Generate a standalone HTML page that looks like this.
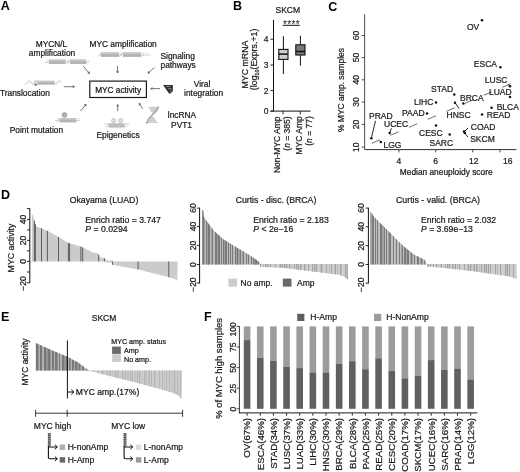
<!DOCTYPE html>
<html lang="en">
<head>
<meta charset="utf-8">
<title>MYC activity figure</title>
<style>
html,body{margin:0;padding:0;background:#fff;}
body{width:520px;height:472px;overflow:hidden;}
svg{display:block;font-family:"Liberation Sans",Arial,Helvetica,sans-serif;}
svg text{white-space:pre;stroke:#1a1a1a;stroke-width:.22px;}
</style>
</head>
<body>
<svg width="520" height="472" viewBox="0 0 520 472">
<rect x="0" y="0" width="520" height="472" fill="#ffffff"/>
<text x="0.80" y="10.10" font-size="12.5" font-weight="bold" fill="#000" style="stroke-width:0">A</text>
<text x="233.00" y="10.10" font-size="12.5" font-weight="bold" fill="#000" style="stroke-width:0">B</text>
<text x="328.20" y="10.60" font-size="12.5" font-weight="bold" fill="#000" style="stroke-width:0">C</text>
<text x="1.10" y="199.20" font-size="12.5" font-weight="bold" fill="#000" style="stroke-width:0">D</text>
<text x="1.00" y="320.90" font-size="12.5" font-weight="bold" fill="#000" style="stroke-width:0">E</text>
<text x="204.00" y="320.90" font-size="12.5" font-weight="bold" fill="#000" style="stroke-width:0">F</text>
<text x="51.50" y="47.00" font-size="8.35" text-anchor="middle" fill="#1a1a1a">MYCN/L</text>
<text x="52.00" y="56.10" font-size="8.35" text-anchor="middle" fill="#1a1a1a">amplification</text>
<line x1="44.50" y1="62.20" x2="89.00" y2="62.20" stroke="#c4c4c4" stroke-width="0.7"/>
<line x1="46.00" y1="60.20" x2="87.50" y2="60.20" stroke="#d4d4d4" stroke-width="0.5"/>
<rect x="49.00" y="59.60" width="16.50" height="4.40" fill="#b4b4b4"/>
<rect x="49.00" y="59.60" width="16.50" height="1.60" fill="#c8c8c8"/>
<line x1="46.00" y1="63.80" x2="49.00" y2="59.90" stroke="#bbb" stroke-width="0.6"/>
<line x1="65.50" y1="63.80" x2="68.50" y2="59.90" stroke="#bbb" stroke-width="0.6"/>
<rect x="70.00" y="59.60" width="16.00" height="4.40" fill="#b4b4b4"/>
<rect x="70.00" y="59.60" width="16.00" height="1.60" fill="#c8c8c8"/>
<line x1="67.00" y1="63.80" x2="70.00" y2="59.90" stroke="#bbb" stroke-width="0.6"/>
<line x1="86.00" y1="63.80" x2="89.00" y2="59.90" stroke="#bbb" stroke-width="0.6"/>
<line x1="83.40" y1="66.20" x2="89.50" y2="73.50" stroke="#4a4a4a" stroke-width="0.75"/>
<line x1="89.50" y1="73.50" x2="87.61" y2="72.85" stroke="#4a4a4a" stroke-width="0.75"/>
<line x1="89.50" y1="73.50" x2="89.19" y2="71.52" stroke="#4a4a4a" stroke-width="0.75"/>
<text x="89.50" y="46.60" font-size="8.35" fill="#1a1a1a">MYC amplification</text>
<line x1="98.50" y1="55.10" x2="150.50" y2="55.10" stroke="#c4c4c4" stroke-width="0.7"/>
<line x1="100.00" y1="53.10" x2="149.00" y2="53.10" stroke="#d4d4d4" stroke-width="0.5"/>
<rect x="101.00" y="52.50" width="18.00" height="4.40" fill="#b4b4b4"/>
<rect x="101.00" y="52.50" width="18.00" height="1.60" fill="#c8c8c8"/>
<line x1="98.00" y1="56.70" x2="101.00" y2="52.80" stroke="#bbb" stroke-width="0.6"/>
<line x1="119.00" y1="56.70" x2="122.00" y2="52.80" stroke="#bbb" stroke-width="0.6"/>
<rect x="123.00" y="52.50" width="18.00" height="4.40" fill="#b4b4b4"/>
<rect x="123.00" y="52.50" width="18.00" height="1.60" fill="#c8c8c8"/>
<line x1="120.00" y1="56.70" x2="123.00" y2="52.80" stroke="#bbb" stroke-width="0.6"/>
<line x1="141.00" y1="56.70" x2="144.00" y2="52.80" stroke="#bbb" stroke-width="0.6"/>
<line x1="117.50" y1="66.00" x2="117.50" y2="73.00" stroke="#4a4a4a" stroke-width="0.75"/>
<line x1="117.50" y1="73.00" x2="116.47" y2="71.29" stroke="#4a4a4a" stroke-width="0.75"/>
<line x1="117.50" y1="73.00" x2="118.53" y2="71.29" stroke="#4a4a4a" stroke-width="0.75"/>
<text x="160.50" y="58.50" font-size="8.35" fill="#1a1a1a">Signaling</text>
<text x="160.50" y="68.00" font-size="8.35" fill="#1a1a1a">pathways</text>
<line x1="154.50" y1="67.50" x2="148.00" y2="73.20" stroke="#4a4a4a" stroke-width="0.75"/>
<line x1="148.00" y1="73.20" x2="148.61" y2="71.29" stroke="#4a4a4a" stroke-width="0.75"/>
<line x1="148.00" y1="73.20" x2="149.97" y2="72.85" stroke="#4a4a4a" stroke-width="0.75"/>
<rect x="89.80" y="81.10" width="56.60" height="16.40" fill="#fff" stroke="#1a1a1a" stroke-width="1.2"/>
<text x="118.10" y="92.70" font-size="8.25" text-anchor="middle" fill="#111">MYC activity</text>
<path d="M163.1 85 L172.8 84.9 L172.8 91.2 L169.6 94 L167.6 91.6 Z" fill="#2e2e2e"/>
<path d="M166 86.6 L170.6 86.6 M168.2 88.6 L171.6 88.8 M170 90.8 L171.4 90.8" stroke="#bbb" stroke-width="0.7" fill="none"/>
<line x1="160.00" y1="88.60" x2="150.80" y2="88.60" stroke="#555" stroke-width="0.8"/>
<line x1="150.80" y1="88.60" x2="152.43" y2="87.62" stroke="#555" stroke-width="0.8"/>
<line x1="150.80" y1="88.60" x2="152.43" y2="89.58" stroke="#555" stroke-width="0.8"/>
<text x="202.00" y="86.90" font-size="8.35" text-anchor="middle" fill="#1a1a1a">Viral</text>
<text x="203.60" y="95.70" font-size="8.35" text-anchor="middle" fill="#1a1a1a">integration</text>
<path d="M24.6 84.6 L28.6 80.6 L33 84.6 L35.2 84.6 M54.6 84.5 L59 80.8 L61.6 82" stroke="#b8b8b8" stroke-width="0.7" fill="none"/>
<path d="M26.6 84.8 L30.4 81 L34 84.2 M55.8 84.8 L60.4 81.2" stroke="#d0d0d0" stroke-width="0.6" fill="none"/>
<rect x="34.40" y="80.80" width="3.20" height="3.80" fill="#e2e2e2" stroke="#b0b0b0" stroke-width="0.5"/>
<rect x="37.70" y="80.80" width="16.90" height="3.90" fill="#b4b4b4"/>
<rect x="37.70" y="80.80" width="16.90" height="1.40" fill="#c8c8c8"/>
<rect x="34.80" y="83.80" width="2.00" height="1.80" fill="#6e6e6e"/>
<text x="0.00" y="96.00" font-size="8.35" fill="#1a1a1a">Translocation</text>
<line x1="63.80" y1="86.70" x2="74.40" y2="86.70" stroke="#4a4a4a" stroke-width="0.75"/>
<line x1="74.40" y1="86.70" x2="72.69" y2="87.73" stroke="#4a4a4a" stroke-width="0.75"/>
<line x1="74.40" y1="86.70" x2="72.69" y2="85.67" stroke="#4a4a4a" stroke-width="0.75"/>
<line x1="55.00" y1="120.60" x2="80.00" y2="120.60" stroke="#c4c4c4" stroke-width="0.7"/>
<line x1="56.50" y1="118.60" x2="78.50" y2="118.60" stroke="#d4d4d4" stroke-width="0.5"/>
<rect x="59.50" y="118.00" width="16.50" height="4.40" fill="#b4b4b4"/>
<rect x="59.50" y="118.00" width="16.50" height="1.60" fill="#c8c8c8"/>
<line x1="56.50" y1="122.20" x2="59.50" y2="118.30" stroke="#bbb" stroke-width="0.6"/>
<line x1="76.00" y1="122.20" x2="79.00" y2="118.30" stroke="#bbb" stroke-width="0.6"/>
<circle cx="64.5" cy="115" r="2.5" fill="#b0b0b0" stroke="#909090" stroke-width="0.5"/>
<text x="9.70" y="132.80" font-size="8.35" fill="#1a1a1a">Point mutation</text>
<line x1="80.50" y1="111.00" x2="86.00" y2="104.30" stroke="#4a4a4a" stroke-width="0.75"/>
<line x1="86.00" y1="104.30" x2="85.71" y2="106.28" stroke="#4a4a4a" stroke-width="0.75"/>
<line x1="86.00" y1="104.30" x2="84.12" y2="104.97" stroke="#4a4a4a" stroke-width="0.75"/>
<line x1="103.30" y1="123.80" x2="129.20" y2="123.80" stroke="#c8c8c8" stroke-width="0.7"/>
<line x1="104.50" y1="126.40" x2="128.00" y2="126.40" stroke="#d4d4d4" stroke-width="0.6"/>
<rect x="108.50" y="123.40" width="16.10" height="4.20" fill="#bdbdbd"/>
<line x1="105.50" y1="127.40" x2="108.50" y2="123.60" stroke="#c4c4c4" stroke-width="0.6"/>
<line x1="124.60" y1="127.40" x2="127.60" y2="123.60" stroke="#c4c4c4" stroke-width="0.6"/>
<circle cx="113.6" cy="120.6" r="2" fill="#e4e4e4" stroke="#a8a8a8" stroke-width="0.7"/>
<circle cx="120.6" cy="120.6" r="2" fill="#e4e4e4" stroke="#a8a8a8" stroke-width="0.7"/>
<text x="118.00" y="138.20" font-size="8.35" text-anchor="middle" fill="#1a1a1a">Epigenetics</text>
<line x1="117.70" y1="111.20" x2="117.70" y2="104.60" stroke="#4a4a4a" stroke-width="0.75"/>
<line x1="117.70" y1="104.60" x2="118.73" y2="106.31" stroke="#4a4a4a" stroke-width="0.75"/>
<line x1="117.70" y1="104.60" x2="116.67" y2="106.31" stroke="#4a4a4a" stroke-width="0.75"/>
<path d="M148.6 107.4 L158.4 107.4 L153.4 115.2 Z" fill="#dcdcdc"/>
<path d="M152.2 115.4 L146.8 122.4 L157.6 122.4 Z" fill="#dcdcdc"/>
<path d="M148.6 107.4 L158.4 107.4 M149.6 109.2 L157.2 109.2 M150.8 111 L156 111 M150.6 118.2 L154.4 118.2 M149 120.2 L156 120.2 M146.8 122.4 L157.6 122.4" stroke="#b4b4b4" stroke-width="0.7" fill="none"/>
<path d="M158.5 106.4 C158.2 112.5 147.2 116.5 146.6 123.8" stroke="#a2a2a2" stroke-width="1.4" fill="none"/>
<text x="182.00" y="118.10" font-size="8.35" text-anchor="middle" fill="#1a1a1a">lncRNA</text>
<text x="181.50" y="128.20" font-size="8.35" text-anchor="middle" fill="#1a1a1a">PVT1</text>
<line x1="142.80" y1="108.80" x2="139.20" y2="103.40" stroke="#4a4a4a" stroke-width="0.75"/>
<line x1="139.20" y1="103.40" x2="141.01" y2="104.25" stroke="#4a4a4a" stroke-width="0.75"/>
<line x1="139.20" y1="103.40" x2="139.29" y2="105.40" stroke="#4a4a4a" stroke-width="0.75"/>
<text x="287.80" y="12.60" font-size="8.5" text-anchor="middle" fill="#1a1a1a">SKCM</text>
<line x1="273.50" y1="19.80" x2="273.50" y2="111.10" stroke="#111" stroke-width="1.0"/>
<line x1="270.40" y1="111.10" x2="310.50" y2="111.10" stroke="#111" stroke-width="1.0"/>
<line x1="270.40" y1="39.20" x2="273.50" y2="39.20" stroke="#111" stroke-width="0.9"/>
<text x="268.60" y="42.20" font-size="8.5" text-anchor="end" fill="#1a1a1a">4</text>
<line x1="270.40" y1="65.00" x2="273.50" y2="65.00" stroke="#111" stroke-width="0.9"/>
<text x="268.60" y="68.00" font-size="8.5" text-anchor="end" fill="#1a1a1a">3</text>
<line x1="270.40" y1="90.60" x2="273.50" y2="90.60" stroke="#111" stroke-width="0.9"/>
<text x="268.60" y="93.60" font-size="8.5" text-anchor="end" fill="#1a1a1a">2</text>
<line x1="270.40" y1="111.10" x2="273.50" y2="111.10" stroke="#111" stroke-width="0.9"/>
<text x="268.60" y="114.10" font-size="8.5" text-anchor="end" fill="#1a1a1a">0</text>
<line x1="283.00" y1="111.10" x2="283.00" y2="114.30" stroke="#111" stroke-width="0.9"/>
<line x1="300.30" y1="111.10" x2="300.30" y2="114.30" stroke="#111" stroke-width="0.9"/>
<line x1="283.40" y1="36.20" x2="283.40" y2="74.00" stroke="#111" stroke-width="1.0"/>
<rect x="278.80" y="49.40" width="9.20" height="10.00" fill="#cdcdcd" stroke="#111" stroke-width="1.1"/>
<line x1="278.80" y1="54.10" x2="288.00" y2="54.10" stroke="#111" stroke-width="1.5"/>
<line x1="300.40" y1="35.80" x2="300.40" y2="65.70" stroke="#111" stroke-width="1.0"/>
<rect x="295.80" y="44.80" width="9.20" height="10.20" fill="#787878" stroke="#111" stroke-width="1.1"/>
<line x1="295.80" y1="51.50" x2="305.00" y2="51.50" stroke="#111" stroke-width="1.5"/>
<line x1="282.80" y1="25.30" x2="299.80" y2="25.30" stroke="#111" stroke-width="1.0"/>
<text x="291.50" y="28.00" font-size="10" text-anchor="middle" fill="#111" letter-spacing="0.35" style="stroke-width:0">****</text>
<text x="248.40" y="64.50" font-size="8.8" text-anchor="middle" transform="rotate(-90 248.40 64.50)" fill="#1a1a1a">MYC mRNA</text>
<text x="257.00" y="59.40" font-size="8.8" text-anchor="middle" transform="rotate(-90 257 59.4)" fill="#1a1a1a">(log<tspan font-size="5.4" dy="1.6">10</tspan><tspan dy="-1.6">(Exprs.+1)</tspan></text>
<text x="279.60" y="116.40" font-size="8.5" text-anchor="end" transform="rotate(-90 279.60 116.40)" fill="#1a1a1a">Non-MYC Amp</text>
<text x="290.30" y="116.40" font-size="8.5" text-anchor="end" transform="rotate(-90 290.3 116.4)" fill="#1a1a1a">(<tspan font-style="italic">n</tspan> = 385)</text>
<text x="302.00" y="116.20" font-size="8.5" text-anchor="end" transform="rotate(-90 302.00 116.20)" fill="#1a1a1a">MYC Amp</text>
<text x="312.30" y="116.20" font-size="8.5" text-anchor="end" transform="rotate(-90 312.3 116.2)" fill="#1a1a1a">(<tspan font-style="italic">n</tspan> = 77)</text>
<line x1="364.60" y1="14.40" x2="364.60" y2="149.60" stroke="#222" stroke-width="0.8"/>
<line x1="364.60" y1="149.60" x2="516.40" y2="149.60" stroke="#1a1a1a" stroke-width="0.9"/>
<line x1="361.80" y1="35.50" x2="364.60" y2="35.50" stroke="#222" stroke-width="0.8"/>
<text x="359.20" y="35.50" font-size="8.5" text-anchor="middle" transform="rotate(-90 359.20 35.50)" fill="#1a1a1a">60</text>
<line x1="361.80" y1="57.60" x2="364.60" y2="57.60" stroke="#222" stroke-width="0.8"/>
<text x="359.20" y="57.60" font-size="8.5" text-anchor="middle" transform="rotate(-90 359.20 57.60)" fill="#1a1a1a">50</text>
<line x1="361.80" y1="79.80" x2="364.60" y2="79.80" stroke="#222" stroke-width="0.8"/>
<text x="359.20" y="79.80" font-size="8.5" text-anchor="middle" transform="rotate(-90 359.20 79.80)" fill="#1a1a1a">40</text>
<line x1="361.80" y1="102.10" x2="364.60" y2="102.10" stroke="#222" stroke-width="0.8"/>
<text x="359.20" y="102.10" font-size="8.5" text-anchor="middle" transform="rotate(-90 359.20 102.10)" fill="#1a1a1a">30</text>
<line x1="361.80" y1="124.40" x2="364.60" y2="124.40" stroke="#222" stroke-width="0.8"/>
<text x="359.20" y="124.40" font-size="8.5" text-anchor="middle" transform="rotate(-90 359.20 124.40)" fill="#1a1a1a">20</text>
<line x1="361.80" y1="147.20" x2="364.60" y2="147.20" stroke="#222" stroke-width="0.8"/>
<text x="359.20" y="147.20" font-size="8.5" text-anchor="middle" transform="rotate(-90 359.20 147.20)" fill="#1a1a1a">10</text>
<line x1="398.90" y1="149.60" x2="398.90" y2="152.40" stroke="#222" stroke-width="0.8"/>
<text x="398.90" y="163.70" font-size="8.5" text-anchor="middle" fill="#1a1a1a">4</text>
<line x1="435.70" y1="149.60" x2="435.70" y2="152.40" stroke="#222" stroke-width="0.8"/>
<text x="435.70" y="163.70" font-size="8.5" text-anchor="middle" fill="#1a1a1a">6</text>
<line x1="472.70" y1="149.60" x2="472.70" y2="152.40" stroke="#222" stroke-width="0.8"/>
<text x="473.80" y="163.70" font-size="8.5" text-anchor="middle" fill="#1a1a1a">12</text>
<line x1="500.00" y1="149.60" x2="500.00" y2="152.40" stroke="#222" stroke-width="0.8"/>
<text x="507.70" y="163.70" font-size="8.5" text-anchor="middle" fill="#1a1a1a">16</text>
<text x="399.80" y="174.50" font-size="8.35" fill="#1a1a1a">Median aneuploidy score</text>
<text x="343.60" y="90.00" font-size="8.5" text-anchor="middle" transform="rotate(-90 343.60 90.00)" fill="#1a1a1a">% MYC amp. samples</text>
<line x1="371.8" y1="143.3" x2="511" y2="83.6" stroke="#5a5a5a" stroke-width="0.9" stroke-dasharray="8.9 11.4"/>
<circle cx="482" cy="20.2" r="1.25" fill="#111"/>
<circle cx="500.4" cy="67.3" r="1.25" fill="#111"/>
<circle cx="510" cy="86.2" r="1.25" fill="#111"/>
<circle cx="510" cy="97" r="1.25" fill="#111"/>
<circle cx="454.3" cy="94.4" r="1.25" fill="#111"/>
<circle cx="463.4" cy="103.5" r="1.25" fill="#111"/>
<circle cx="455" cy="102.8" r="1.25" fill="#111"/>
<circle cx="436" cy="102.6" r="1.25" fill="#111"/>
<circle cx="491.6" cy="107.7" r="1.25" fill="#111"/>
<circle cx="482" cy="114.5" r="1.25" fill="#111"/>
<circle cx="427" cy="113.4" r="1.25" fill="#111"/>
<circle cx="371.4" cy="138.2" r="1.25" fill="#111"/>
<circle cx="389.7" cy="133" r="1.25" fill="#111"/>
<circle cx="380.8" cy="142" r="1.25" fill="#111"/>
<circle cx="436" cy="125.5" r="1.25" fill="#111"/>
<circle cx="449.7" cy="134.6" r="1.25" fill="#111"/>
<circle cx="464" cy="131.6" r="1.25" fill="#111"/>
<circle cx="464.8" cy="133" r="1.25" fill="#111"/>
<text x="467.00" y="30.00" font-size="8.5" fill="#1a1a1a">OV</text>
<text x="473.80" y="67.00" font-size="8.5" fill="#1a1a1a">ESCA</text>
<text x="484.80" y="82.60" font-size="8.5" fill="#1a1a1a">LUSC</text>
<text x="489.00" y="95.00" font-size="8.5" fill="#1a1a1a">LUAD</text>
<text x="431.00" y="92.00" font-size="8.5" fill="#1a1a1a">STAD</text>
<text x="460.00" y="100.60" font-size="8.5" fill="#1a1a1a">BRCA</text>
<text x="446.60" y="118.00" font-size="8.5" fill="#1a1a1a">HNSC</text>
<text x="414.00" y="104.60" font-size="8.5" fill="#1a1a1a">LIHC</text>
<text x="496.70" y="110.00" font-size="8.5" fill="#1a1a1a">BLCA</text>
<text x="486.80" y="118.00" font-size="8.5" fill="#1a1a1a">READ</text>
<text x="402.00" y="115.70" font-size="8.5" fill="#1a1a1a">PAAD</text>
<text x="369.00" y="119.00" font-size="8.5" fill="#1a1a1a">PRAD</text>
<text x="384.00" y="127.00" font-size="8.5" fill="#1a1a1a">UCEC</text>
<text x="383.50" y="147.90" font-size="8.5" fill="#1a1a1a">LGG</text>
<text x="419.00" y="136.00" font-size="8.5" fill="#1a1a1a">CESC</text>
<text x="429.50" y="146.00" font-size="8.5" fill="#1a1a1a">SARC</text>
<text x="470.80" y="130.00" font-size="8.5" fill="#1a1a1a">COAD</text>
<text x="470.20" y="141.50" font-size="8.5" fill="#1a1a1a">SKCM</text>
<line x1="375.50" y1="120.80" x2="371.60" y2="137.00" stroke="#111" stroke-width="0.9"/>
<line x1="391.40" y1="128.30" x2="389.90" y2="132.40" stroke="#111" stroke-width="0.9"/>
<line x1="455.20" y1="103.00" x2="459.00" y2="108.40" stroke="#111" stroke-width="0.9"/>
<line x1="464.20" y1="131.80" x2="468.00" y2="128.00" stroke="#111" stroke-width="0.9"/>
<line x1="464.60" y1="133.00" x2="468.00" y2="137.00" stroke="#111" stroke-width="0.9"/>
<line x1="508.00" y1="84.60" x2="509.60" y2="85.80" stroke="#111" stroke-width="0.8"/>
<text x="104.00" y="203.20" font-size="8.7" text-anchor="middle" fill="#1a1a1a">Okayama (LUAD)</text>
<line x1="29.80" y1="208.20" x2="29.80" y2="283.10" stroke="#111" stroke-width="1.0"/>
<line x1="27.00" y1="219.40" x2="29.80" y2="219.40" stroke="#111" stroke-width="0.9"/>
<text x="26.20" y="219.40" font-size="8.5" text-anchor="middle" transform="rotate(-90 26.20 219.40)" fill="#1a1a1a">40</text>
<line x1="27.00" y1="240.40" x2="29.80" y2="240.40" stroke="#111" stroke-width="0.9"/>
<text x="26.20" y="240.40" font-size="8.5" text-anchor="middle" transform="rotate(-90 26.20 240.40)" fill="#1a1a1a">20</text>
<line x1="27.00" y1="261.40" x2="29.80" y2="261.40" stroke="#111" stroke-width="0.9"/>
<text x="26.20" y="261.40" font-size="8.5" text-anchor="middle" transform="rotate(-90 26.20 261.40)" fill="#1a1a1a">0</text>
<line x1="27.00" y1="282.70" x2="29.80" y2="282.70" stroke="#111" stroke-width="0.9"/>
<text x="26.20" y="283.60" font-size="8.5" text-anchor="middle" transform="rotate(-90 26.20 283.60)" fill="#1a1a1a">−20</text>
<line x1="27.00" y1="208.60" x2="29.80" y2="208.60" stroke="#111" stroke-width="0.9"/>
<line x1="27.00" y1="229.90" x2="29.80" y2="229.90" stroke="#111" stroke-width="0.9"/>
<line x1="27.00" y1="250.90" x2="29.80" y2="250.90" stroke="#111" stroke-width="0.9"/>
<line x1="27.00" y1="272.00" x2="29.80" y2="272.00" stroke="#111" stroke-width="0.9"/>
<text x="14.40" y="248.00" font-size="8.8" text-anchor="middle" transform="rotate(-90 14.40 248.00)" fill="#1a1a1a">MYC activity</text>
<path d="M31.8 261.4 L31.8 214.20 L32.3 214.74 L32.8 215.28 L33.3 216.60 L33.8 218.43 L34.3 220.27 L34.8 222.00 L35.3 223.67 L35.8 225.33 L36.3 226.18 L36.8 226.48 L37.3 226.78 L37.8 227.08 L38.3 227.30 L38.8 227.46 L39.3 227.62 L39.8 227.79 L40.3 227.95 L40.8 228.11 L41.3 228.27 L41.8 228.44 L42.3 228.60 L42.8 228.82 L43.3 229.03 L43.8 229.25 L44.3 229.47 L44.8 229.68 L45.3 229.90 L45.8 230.12 L46.3 230.33 L46.8 230.55 L47.3 230.77 L47.8 230.98 L48.3 231.20 L48.8 231.49 L49.3 231.77 L49.8 232.06 L50.3 232.34 L50.8 232.63 L51.3 232.91 L51.8 233.20 L52.3 233.48 L52.8 233.77 L53.3 234.05 L53.8 234.34 L54.3 234.62 L54.8 234.91 L55.3 235.19 L55.8 235.48 L56.3 235.76 L56.8 236.05 L57.3 236.33 L57.8 236.62 L58.3 236.90 L58.8 237.19 L59.3 237.48 L59.8 237.78 L60.3 238.08 L60.8 238.38 L61.3 238.68 L61.8 238.97 L62.3 239.27 L62.8 239.57 L63.3 239.87 L63.8 240.17 L64.3 240.47 L64.8 240.77 L65.3 241.07 L65.8 241.37 L66.3 241.66 L66.8 241.96 L67.3 242.26 L67.8 242.56 L68.3 242.86 L68.8 243.13 L69.3 243.27 L69.8 243.41 L70.3 243.55 L70.8 243.70 L71.3 243.84 L71.8 243.98 L72.3 244.12 L72.8 244.26 L73.3 244.40 L73.8 244.55 L74.3 244.69 L74.8 244.83 L75.3 244.97 L75.8 245.11 L76.3 245.25 L76.8 245.40 L77.3 245.54 L77.8 245.68 L78.3 245.82 L78.8 245.96 L79.3 246.10 L79.8 246.25 L80.3 246.39 L80.8 246.53 L81.3 246.67 L81.8 246.90 L82.3 247.15 L82.8 247.40 L83.3 247.65 L83.8 247.90 L84.3 248.15 L84.8 248.40 L85.3 248.65 L85.8 248.90 L86.3 249.15 L86.8 249.40 L87.3 249.65 L87.8 249.90 L88.3 250.15 L88.8 250.40 L89.3 250.69 L89.8 251.01 L90.3 251.32 L90.8 251.64 L91.3 251.96 L91.8 252.27 L92.3 252.44 L92.8 252.50 L93.3 252.56 L93.8 252.62 L94.3 252.68 L94.8 252.74 L95.3 252.80 L95.8 252.86 L96.3 252.92 L96.8 252.98 L97.3 253.26 L97.8 253.69 L98.3 254.13 L98.8 254.77 L99.3 255.56 L99.8 256.34 L100.3 257.13 L100.8 257.63 L101.3 257.71 L101.8 257.78 L102.3 257.86 L102.8 257.94 L103.3 258.02 L103.8 258.09 L104.3 258.17 L104.8 258.50 L105.3 259.00 L105.8 259.50 L106.3 260.00 L106.8 260.28 L107.3 260.41 L107.8 260.55 L108.3 260.74 L108.8 260.98 L109.3 261.22 L109.8 261.45 L110.3 261.69 L110.8 261.93 L111.3 262.16 L111.8 262.40 L112.3 264.82 L112.8 264.91 L113.3 265.00 L113.8 265.09 L114.3 265.17 L114.8 265.26 L115.3 265.35 L115.8 265.44 L116.3 265.53 L116.8 265.62 L117.3 265.71 L117.8 265.80 L118.3 265.89 L118.8 265.98 L119.3 266.07 L119.8 266.16 L120.3 266.24 L120.8 266.33 L121.3 266.42 L121.8 266.51 L122.3 266.60 L122.8 266.69 L123.3 266.78 L123.8 266.87 L124.3 266.96 L124.8 267.05 L125.3 267.14 L125.8 267.22 L126.3 267.31 L126.8 267.40 L127.3 267.49 L127.8 267.58 L128.3 267.67 L128.8 267.76 L129.3 267.85 L129.8 267.94 L130.3 268.03 L130.8 268.12 L131.3 268.21 L131.8 268.29 L132.3 268.38 L132.8 268.47 L133.3 268.56 L133.8 268.65 L134.3 268.74 L134.8 268.83 L135.3 268.92 L135.8 269.01 L136.3 269.10 L136.8 269.19 L137.3 269.28 L137.8 269.36 L138.3 269.48 L138.8 269.60 L139.3 269.73 L139.8 269.86 L140.3 269.98 L140.8 270.11 L141.3 270.24 L141.8 270.37 L142.3 270.49 L142.8 270.62 L143.3 270.75 L143.8 270.87 L144.3 271.00 L144.8 271.13 L145.3 271.25 L145.8 271.38 L146.3 271.51 L146.8 271.64 L147.3 271.76 L147.8 271.89 L148.3 272.02 L148.8 272.14 L149.3 272.27 L149.8 272.40 L150.3 272.53 L150.8 272.65 L151.3 272.78 L151.8 272.91 L152.3 273.03 L152.8 273.16 L153.3 273.29 L153.8 273.41 L154.3 273.54 L154.8 273.67 L155.3 273.80 L155.8 273.92 L156.3 274.05 L156.8 274.18 L157.3 274.30 L157.8 274.43 L158.3 274.56 L158.8 274.68 L159.3 274.81 L159.8 274.94 L160.3 275.07 L160.8 275.19 L161.3 275.32 L161.8 275.45 L162.3 275.57 L162.8 275.70 L163.3 275.83 L163.8 275.96 L164.3 276.08 L164.8 276.21 L165.3 276.34 L165.8 276.46 L166.3 276.59 L166.8 276.72 L167.3 276.84 L167.8 276.97 L168.3 277.10 L168.8 277.23 L169.3 277.36 L169.8 277.50 L170.3 277.63 L170.8 277.77 L171.3 277.91 L171.8 278.04 L172.3 278.18 L172.8 278.31 L173.3 278.45 L173.8 278.58 L174.3 278.72 L174.8 278.96 L175.3 279.36 L175.8 279.76 L176.3 280.16 L176.8 280.56 L177.3 280.96 L177.6 261.4 Z" fill="#cbcbcb"/>
<rect x="105.00" y="260.30" width="8.00" height="2.20" fill="#d2d2d2"/>
<line x1="34.40" y1="261.40" x2="34.40" y2="220.63" stroke="#505050" stroke-width="0.9"/>
<line x1="35.40" y1="261.40" x2="35.40" y2="224.00" stroke="#505050" stroke-width="0.9"/>
<line x1="41.50" y1="261.40" x2="41.50" y2="228.34" stroke="#505050" stroke-width="0.9"/>
<line x1="47.40" y1="261.40" x2="47.40" y2="230.81" stroke="#505050" stroke-width="0.9"/>
<line x1="58.50" y1="261.40" x2="58.50" y2="237.01" stroke="#505050" stroke-width="0.9"/>
<line x1="68.40" y1="261.40" x2="68.40" y2="242.92" stroke="#505050" stroke-width="0.9"/>
<line x1="69.60" y1="261.40" x2="69.60" y2="243.36" stroke="#505050" stroke-width="0.9"/>
<line x1="80.90" y1="261.40" x2="80.90" y2="246.56" stroke="#505050" stroke-width="0.9"/>
<line x1="82.70" y1="261.40" x2="82.70" y2="247.35" stroke="#505050" stroke-width="0.9"/>
<line x1="98.70" y1="261.40" x2="98.70" y2="254.61" stroke="#505050" stroke-width="0.9"/>
<line x1="104.40" y1="261.40" x2="104.40" y2="258.18" stroke="#505050" stroke-width="0.9"/>
<line x1="112.40" y1="261.40" x2="112.40" y2="264.84" stroke="#505050" stroke-width="0.9"/>
<line x1="138.10" y1="261.40" x2="138.10" y2="269.43" stroke="#505050" stroke-width="0.9"/>
<line x1="168.80" y1="261.40" x2="168.80" y2="277.23" stroke="#505050" stroke-width="0.9"/>
<text x="85.30" y="223.00" font-size="8.7" fill="#1a1a1a">Enrich ratio = 3.747</text>
<text x="85.3" y="231.9" font-size="8.7" fill="#1a1a1a"><tspan font-style="italic">P</tspan> = 0.0294</text>
<text x="276.00" y="203.30" font-size="8.7" text-anchor="middle" fill="#1a1a1a">Curtis - disc. (BRCA)</text>
<line x1="199.60" y1="207.70" x2="199.60" y2="283.40" stroke="#111" stroke-width="1.0"/>
<line x1="196.80" y1="208.10" x2="199.60" y2="208.10" stroke="#111" stroke-width="0.9"/>
<text x="195.60" y="208.10" font-size="8.5" text-anchor="middle" transform="rotate(-90 195.60 208.10)" fill="#1a1a1a">60</text>
<line x1="196.80" y1="226.60" x2="199.60" y2="226.60" stroke="#111" stroke-width="0.9"/>
<text x="195.60" y="226.60" font-size="8.5" text-anchor="middle" transform="rotate(-90 195.60 226.60)" fill="#1a1a1a">40</text>
<line x1="196.80" y1="245.40" x2="199.60" y2="245.40" stroke="#111" stroke-width="0.9"/>
<text x="195.60" y="245.40" font-size="8.5" text-anchor="middle" transform="rotate(-90 195.60 245.40)" fill="#1a1a1a">20</text>
<line x1="196.80" y1="264.50" x2="199.60" y2="264.50" stroke="#111" stroke-width="0.9"/>
<text x="195.60" y="264.50" font-size="8.5" text-anchor="middle" transform="rotate(-90 195.60 264.50)" fill="#1a1a1a">0</text>
<line x1="196.80" y1="283.00" x2="199.60" y2="283.00" stroke="#111" stroke-width="0.9"/>
<text x="195.60" y="284.60" font-size="8.5" text-anchor="middle" transform="rotate(-90 195.60 284.60)" fill="#1a1a1a">−20</text>
<clipPath id="cp1"><path d="M202.2 264.6 L202.2 210.10 L202.7 210.20 L203.2 210.30 L203.7 215.97 L204.2 217.10 L204.7 218.22 L205.2 219.17 L205.7 219.86 L206.2 220.54 L206.7 221.22 L207.2 221.91 L207.7 222.59 L208.2 223.27 L208.7 223.93 L209.2 224.60 L209.7 225.27 L210.2 225.93 L210.7 226.60 L211.2 227.27 L211.7 227.93 L212.2 228.60 L212.7 229.27 L213.2 229.93 L213.7 230.60 L214.2 231.18 L214.7 231.62 L215.2 232.06 L215.7 232.51 L216.2 232.95 L216.7 233.39 L217.2 233.83 L217.7 234.28 L218.2 234.72 L218.7 235.16 L219.2 235.60 L219.7 236.05 L220.2 236.49 L220.7 236.93 L221.2 237.38 L221.7 237.82 L222.2 238.26 L222.7 238.70 L223.2 239.15 L223.7 239.56 L224.2 239.87 L224.7 240.18 L225.2 240.49 L225.7 240.80 L226.2 241.10 L226.7 241.41 L227.2 241.72 L227.7 242.03 L228.2 242.34 L228.7 242.65 L229.2 242.96 L229.7 243.26 L230.2 243.57 L230.7 243.88 L231.2 244.19 L231.7 244.50 L232.2 244.81 L232.7 245.11 L233.2 245.42 L233.7 245.72 L234.2 246.01 L234.7 246.31 L235.2 246.61 L235.7 246.90 L236.2 247.20 L236.7 247.50 L237.2 247.79 L237.7 248.09 L238.2 248.39 L238.7 248.68 L239.2 248.98 L239.7 249.28 L240.2 249.57 L240.7 249.87 L241.2 250.17 L241.7 250.47 L242.2 250.76 L242.7 251.06 L243.2 251.36 L243.7 251.67 L244.2 251.97 L244.7 252.27 L245.2 252.58 L245.7 252.88 L246.2 253.18 L246.7 253.49 L247.2 253.79 L247.7 254.09 L248.2 254.40 L248.7 254.70 L249.2 255.00 L249.7 255.31 L250.2 255.61 L250.7 255.91 L251.2 256.21 L251.7 256.52 L252.2 256.85 L252.7 257.22 L253.2 257.59 L253.7 257.97 L254.2 258.34 L254.7 258.71 L255.2 259.09 L255.7 259.46 L256.2 259.83 L256.7 260.21 L257.2 260.58 L257.7 260.95 L258.2 261.32 L258.7 261.69 L259.2 262.06 L259.7 262.43 L260.2 266.81 L260.0 264.6 Z"/></clipPath>
<g clip-path="url(#cp1)">
<rect x="202.20" y="200.00" width="57.80" height="100.00" fill="#bcbcbc"/>
<rect x="202.00" y="200.00" width="1.00" height="100.00" fill="#787878"/>
<rect x="203.00" y="200.00" width="1.00" height="100.00" fill="#787878"/>
<rect x="204.00" y="200.00" width="1.00" height="100.00" fill="#a0a0a0"/>
<rect x="206.00" y="200.00" width="1.00" height="100.00" fill="#787878"/>
<rect x="207.00" y="200.00" width="1.00" height="100.00" fill="#a0a0a0"/>
<rect x="208.00" y="200.00" width="1.00" height="100.00" fill="#787878"/>
<rect x="209.00" y="200.00" width="1.00" height="100.00" fill="#787878"/>
<rect x="211.00" y="200.00" width="1.00" height="100.00" fill="#a0a0a0"/>
<rect x="212.00" y="200.00" width="1.00" height="100.00" fill="#787878"/>
<rect x="215.00" y="200.00" width="1.00" height="100.00" fill="#787878"/>
<rect x="216.00" y="200.00" width="1.00" height="100.00" fill="#787878"/>
<rect x="217.00" y="200.00" width="1.00" height="100.00" fill="#a0a0a0"/>
<rect x="218.00" y="200.00" width="1.00" height="100.00" fill="#787878"/>
<rect x="219.00" y="200.00" width="1.00" height="100.00" fill="#787878"/>
<rect x="221.00" y="200.00" width="1.00" height="100.00" fill="#787878"/>
<rect x="223.00" y="200.00" width="1.00" height="100.00" fill="#787878"/>
<rect x="224.00" y="200.00" width="1.00" height="100.00" fill="#a0a0a0"/>
<rect x="225.00" y="200.00" width="1.00" height="100.00" fill="#787878"/>
<rect x="226.00" y="200.00" width="1.00" height="100.00" fill="#787878"/>
<rect x="228.00" y="200.00" width="1.00" height="100.00" fill="#787878"/>
<rect x="230.00" y="200.00" width="1.00" height="100.00" fill="#787878"/>
<rect x="232.00" y="200.00" width="1.00" height="100.00" fill="#787878"/>
<rect x="235.00" y="200.00" width="1.00" height="100.00" fill="#787878"/>
<rect x="236.00" y="200.00" width="1.00" height="100.00" fill="#a0a0a0"/>
<rect x="237.00" y="200.00" width="1.00" height="100.00" fill="#787878"/>
<rect x="238.00" y="200.00" width="1.00" height="100.00" fill="#a0a0a0"/>
<rect x="239.00" y="200.00" width="1.00" height="100.00" fill="#a0a0a0"/>
<rect x="240.00" y="200.00" width="1.00" height="100.00" fill="#787878"/>
<rect x="242.00" y="200.00" width="1.00" height="100.00" fill="#a0a0a0"/>
<rect x="243.00" y="200.00" width="1.00" height="100.00" fill="#787878"/>
<rect x="246.00" y="200.00" width="1.00" height="100.00" fill="#787878"/>
<rect x="248.00" y="200.00" width="1.00" height="100.00" fill="#787878"/>
<rect x="251.00" y="200.00" width="1.00" height="100.00" fill="#787878"/>
<rect x="253.00" y="200.00" width="1.00" height="100.00" fill="#787878"/>
<rect x="254.00" y="200.00" width="1.00" height="100.00" fill="#a0a0a0"/>
<rect x="255.00" y="200.00" width="1.00" height="100.00" fill="#787878"/>
<rect x="256.00" y="200.00" width="1.00" height="100.00" fill="#787878"/>
<rect x="257.00" y="200.00" width="1.00" height="100.00" fill="#a0a0a0"/>
<rect x="258.00" y="200.00" width="1.00" height="100.00" fill="#787878"/>
</g>
<clipPath id="cp2"><path d="M260.0 264.0 L260.0 266.80 L260.5 266.82 L261.0 266.85 L261.5 266.87 L262.0 266.89 L262.5 266.92 L263.0 266.94 L263.5 266.96 L264.0 266.98 L264.5 267.01 L265.0 267.03 L265.5 267.05 L266.0 267.08 L266.5 267.10 L267.0 267.12 L267.5 267.15 L268.0 267.17 L268.5 267.19 L269.0 267.22 L269.5 267.24 L270.0 267.26 L270.5 267.29 L271.0 267.31 L271.5 267.33 L272.0 267.35 L272.5 267.38 L273.0 267.40 L273.5 267.42 L274.0 267.45 L274.5 267.47 L275.0 267.49 L275.5 267.52 L276.0 267.54 L276.5 267.56 L277.0 267.59 L277.5 267.61 L278.0 267.63 L278.5 267.66 L279.0 267.68 L279.5 267.70 L280.0 267.72 L280.5 267.75 L281.0 267.77 L281.5 267.79 L282.0 267.82 L282.5 267.84 L283.0 267.86 L283.5 267.89 L284.0 267.92 L284.5 267.99 L285.0 268.05 L285.5 268.11 L286.0 268.17 L286.5 268.24 L287.0 268.30 L287.5 268.36 L288.0 268.42 L288.5 268.48 L289.0 268.55 L289.5 268.61 L290.0 268.67 L290.5 268.73 L291.0 268.79 L291.5 268.86 L292.0 268.92 L292.5 268.98 L293.0 269.04 L293.5 269.11 L294.0 269.17 L294.5 269.23 L295.0 269.29 L295.5 269.35 L296.0 269.42 L296.5 269.48 L297.0 269.54 L297.5 269.60 L298.0 269.66 L298.5 269.73 L299.0 269.79 L299.5 269.85 L300.0 269.91 L300.5 269.98 L301.0 270.04 L301.5 270.10 L302.0 270.16 L302.5 270.22 L303.0 270.29 L303.5 270.35 L304.0 270.41 L304.5 270.47 L305.0 270.53 L305.5 270.60 L306.0 270.66 L306.5 270.72 L307.0 270.78 L307.5 270.85 L308.0 270.91 L308.5 270.97 L309.0 271.03 L309.5 271.09 L310.0 271.16 L310.5 271.22 L311.0 271.28 L311.5 271.34 L312.0 271.40 L312.5 271.47 L313.0 271.53 L313.5 271.59 L314.0 271.65 L314.5 271.72 L315.0 271.78 L315.5 271.84 L316.0 271.90 L316.5 271.96 L317.0 272.03 L317.5 272.09 L318.0 272.15 L318.5 272.21 L319.0 272.27 L319.5 272.33 L320.0 272.39 L320.5 272.45 L321.0 272.52 L321.5 272.58 L322.0 272.64 L322.5 272.70 L323.0 272.76 L323.5 272.82 L324.0 272.88 L324.5 272.94 L325.0 273.00 L325.5 273.06 L326.0 273.12 L326.5 273.18 L327.0 273.24 L327.5 273.30 L328.0 273.37 L328.5 273.43 L329.0 273.49 L329.5 273.55 L330.0 273.61 L330.5 273.67 L331.0 273.73 L331.5 273.79 L332.0 273.85 L332.5 273.91 L333.0 273.97 L333.5 274.03 L334.0 274.09 L334.5 274.15 L335.0 274.21 L335.5 274.28 L336.0 274.34 L336.5 274.40 L337.0 274.46 L337.5 274.52 L338.0 274.58 L338.5 274.64 L339.0 274.70 L339.5 274.88 L340.0 275.06 L340.5 275.24 L341.0 275.42 L341.5 275.60 L342.0 275.78 L342.5 275.96 L343.0 276.14 L343.5 276.32 L344.0 276.50 L344.5 276.89 L345.0 277.29 L345.5 277.68 L346.0 278.08 L346.5 278.47 L347.0 278.87 L347.5 279.26 L348.0 279.50 L347.8 264.0 Z"/></clipPath>
<g clip-path="url(#cp2)">
<rect x="260.00" y="200.00" width="87.80" height="100.00" fill="#cecece"/>
<rect x="260.00" y="200.00" width="1.00" height="100.00" fill="#a4a4a4"/>
<rect x="263.00" y="200.00" width="1.00" height="100.00" fill="#bebebe"/>
<rect x="265.00" y="200.00" width="1.00" height="100.00" fill="#a4a4a4"/>
<rect x="266.00" y="200.00" width="1.00" height="100.00" fill="#bebebe"/>
<rect x="267.00" y="200.00" width="1.00" height="100.00" fill="#a4a4a4"/>
<rect x="268.00" y="200.00" width="1.00" height="100.00" fill="#bebebe"/>
<rect x="270.00" y="200.00" width="1.00" height="100.00" fill="#a4a4a4"/>
<rect x="275.00" y="200.00" width="1.00" height="100.00" fill="#a4a4a4"/>
<rect x="279.00" y="200.00" width="1.00" height="100.00" fill="#bebebe"/>
<rect x="280.00" y="200.00" width="1.00" height="100.00" fill="#a4a4a4"/>
<rect x="281.00" y="200.00" width="1.00" height="100.00" fill="#bebebe"/>
<rect x="282.00" y="200.00" width="1.00" height="100.00" fill="#a4a4a4"/>
<rect x="284.00" y="200.00" width="1.00" height="100.00" fill="#a4a4a4"/>
<rect x="285.00" y="200.00" width="1.00" height="100.00" fill="#bebebe"/>
<rect x="286.00" y="200.00" width="1.00" height="100.00" fill="#a4a4a4"/>
<rect x="287.00" y="200.00" width="1.00" height="100.00" fill="#bebebe"/>
<rect x="289.00" y="200.00" width="1.00" height="100.00" fill="#a4a4a4"/>
<rect x="291.00" y="200.00" width="1.00" height="100.00" fill="#bebebe"/>
<rect x="294.00" y="200.00" width="1.00" height="100.00" fill="#a4a4a4"/>
<rect x="296.00" y="200.00" width="1.00" height="100.00" fill="#a4a4a4"/>
<rect x="297.00" y="200.00" width="1.00" height="100.00" fill="#bebebe"/>
<rect x="298.00" y="200.00" width="1.00" height="100.00" fill="#a4a4a4"/>
<rect x="300.00" y="200.00" width="1.00" height="100.00" fill="#a4a4a4"/>
<rect x="301.00" y="200.00" width="1.00" height="100.00" fill="#bebebe"/>
<rect x="304.00" y="200.00" width="1.00" height="100.00" fill="#a4a4a4"/>
<rect x="305.00" y="200.00" width="1.00" height="100.00" fill="#bebebe"/>
<rect x="308.00" y="200.00" width="1.00" height="100.00" fill="#a4a4a4"/>
<rect x="312.00" y="200.00" width="1.00" height="100.00" fill="#a4a4a4"/>
<rect x="314.00" y="200.00" width="1.00" height="100.00" fill="#a4a4a4"/>
<rect x="315.00" y="200.00" width="1.00" height="100.00" fill="#bebebe"/>
<rect x="316.00" y="200.00" width="1.00" height="100.00" fill="#a4a4a4"/>
<rect x="320.00" y="200.00" width="1.00" height="100.00" fill="#bebebe"/>
<rect x="321.00" y="200.00" width="1.00" height="100.00" fill="#a4a4a4"/>
<rect x="322.00" y="200.00" width="1.00" height="100.00" fill="#bebebe"/>
<rect x="326.00" y="200.00" width="1.00" height="100.00" fill="#a4a4a4"/>
<rect x="329.00" y="200.00" width="1.00" height="100.00" fill="#bebebe"/>
<rect x="331.00" y="200.00" width="1.00" height="100.00" fill="#a4a4a4"/>
<rect x="334.00" y="200.00" width="1.00" height="100.00" fill="#bebebe"/>
<rect x="335.00" y="200.00" width="1.00" height="100.00" fill="#a4a4a4"/>
<rect x="337.00" y="200.00" width="1.00" height="100.00" fill="#bebebe"/>
<rect x="340.00" y="200.00" width="1.00" height="100.00" fill="#a4a4a4"/>
<rect x="341.00" y="200.00" width="1.00" height="100.00" fill="#bebebe"/>
<rect x="345.00" y="200.00" width="1.00" height="100.00" fill="#a4a4a4"/>
<rect x="346.00" y="200.00" width="1.00" height="100.00" fill="#bebebe"/>
<rect x="347.00" y="200.00" width="1.00" height="100.00" fill="#a4a4a4"/>
</g>
<text x="253.20" y="223.10" font-size="8.7" fill="#1a1a1a">Enrich ratio = 2.183</text>
<text x="253.2" y="231.9" font-size="8.7" fill="#1a1a1a"><tspan font-style="italic">P</tspan> &lt; 2e−16</text>
<rect x="228.40" y="278.60" width="8.60" height="8.00" fill="#cbcbcb"/>
<text x="240.50" y="285.60" font-size="8.5" fill="#1a1a1a">No amp.</text>
<rect x="282.80" y="278.60" width="8.70" height="8.00" fill="#6a6a6a"/>
<text x="297.00" y="285.60" font-size="8.5" fill="#1a1a1a">Amp</text>
<text x="438.00" y="203.20" font-size="8.8" text-anchor="middle" fill="#1a1a1a">Curtis - valid. (BRCA)</text>
<line x1="368.40" y1="207.70" x2="368.40" y2="283.50" stroke="#111" stroke-width="1.0"/>
<line x1="365.60" y1="208.10" x2="368.40" y2="208.10" stroke="#111" stroke-width="0.9"/>
<text x="364.40" y="208.10" font-size="8.5" text-anchor="middle" transform="rotate(-90 364.40 208.10)" fill="#1a1a1a">60</text>
<line x1="365.60" y1="226.80" x2="368.40" y2="226.80" stroke="#111" stroke-width="0.9"/>
<text x="364.40" y="226.80" font-size="8.5" text-anchor="middle" transform="rotate(-90 364.40 226.80)" fill="#1a1a1a">40</text>
<line x1="365.60" y1="245.70" x2="368.40" y2="245.70" stroke="#111" stroke-width="0.9"/>
<text x="364.40" y="245.70" font-size="8.5" text-anchor="middle" transform="rotate(-90 364.40 245.70)" fill="#1a1a1a">20</text>
<line x1="365.60" y1="264.50" x2="368.40" y2="264.50" stroke="#111" stroke-width="0.9"/>
<text x="364.40" y="264.50" font-size="8.5" text-anchor="middle" transform="rotate(-90 364.40 264.50)" fill="#1a1a1a">0</text>
<line x1="365.60" y1="283.10" x2="368.40" y2="283.10" stroke="#111" stroke-width="0.9"/>
<text x="364.40" y="284.70" font-size="8.5" text-anchor="middle" transform="rotate(-90 364.40 284.70)" fill="#1a1a1a">−20</text>
<clipPath id="cp3"><path d="M370.4 264.6 L370.4 211.40 L370.9 212.21 L371.4 213.02 L371.9 213.84 L372.4 214.51 L372.9 215.14 L373.4 215.77 L373.9 216.40 L374.4 217.04 L374.9 217.67 L375.4 218.30 L375.9 218.80 L376.4 219.30 L376.9 219.80 L377.4 220.30 L377.9 220.80 L378.4 221.30 L378.9 221.80 L379.4 222.30 L379.9 222.80 L380.4 223.30 L380.9 223.80 L381.4 224.30 L381.9 224.80 L382.4 225.30 L382.9 225.80 L383.4 226.30 L383.9 226.80 L384.4 227.30 L384.9 227.80 L385.4 228.30 L385.9 228.80 L386.4 229.30 L386.9 229.80 L387.4 230.30 L387.9 230.80 L388.4 231.30 L388.9 231.80 L389.4 232.30 L389.9 232.80 L390.4 233.30 L390.9 233.80 L391.4 234.30 L391.9 234.80 L392.4 235.30 L392.9 235.80 L393.4 236.29 L393.9 236.79 L394.4 237.28 L394.9 237.78 L395.4 238.27 L395.9 238.77 L396.4 239.26 L396.9 239.76 L397.4 240.25 L397.9 240.75 L398.4 241.24 L398.9 241.74 L399.4 242.23 L399.9 242.73 L400.4 243.22 L400.9 243.72 L401.4 244.22 L401.9 244.71 L402.4 245.21 L402.9 245.70 L403.4 246.12 L403.9 246.52 L404.4 246.92 L404.9 247.32 L405.4 247.72 L405.9 248.13 L406.4 248.53 L406.9 248.93 L407.4 249.33 L407.9 249.73 L408.4 250.13 L408.9 250.53 L409.4 250.93 L409.9 251.33 L410.4 251.73 L410.9 252.13 L411.4 252.54 L411.9 252.94 L412.4 253.34 L412.9 253.74 L413.4 254.14 L413.9 254.45 L414.4 254.70 L414.9 254.95 L415.4 255.20 L415.9 255.45 L416.4 255.70 L416.9 255.95 L417.4 256.20 L417.9 256.45 L418.4 256.70 L418.9 256.95 L419.4 257.20 L419.9 257.45 L420.4 257.70 L420.9 257.95 L421.4 258.20 L421.9 258.45 L422.4 258.70 L422.9 258.95 L423.4 259.20 L423.9 259.45 L424.4 259.77 L424.9 260.20 L425.4 260.63 L425.9 261.06 L426.4 263.90 L426.5 264.6 Z"/></clipPath>
<g clip-path="url(#cp3)">
<rect x="370.40" y="200.00" width="56.10" height="100.00" fill="#bebebe"/>
<rect x="370.00" y="200.00" width="1.00" height="100.00" fill="#7c7c7c"/>
<rect x="371.00" y="200.00" width="1.00" height="100.00" fill="#a2a2a2"/>
<rect x="372.00" y="200.00" width="1.00" height="100.00" fill="#7c7c7c"/>
<rect x="373.00" y="200.00" width="1.00" height="100.00" fill="#7c7c7c"/>
<rect x="375.00" y="200.00" width="1.00" height="100.00" fill="#7c7c7c"/>
<rect x="377.00" y="200.00" width="1.00" height="100.00" fill="#7c7c7c"/>
<rect x="380.00" y="200.00" width="1.00" height="100.00" fill="#7c7c7c"/>
<rect x="381.00" y="200.00" width="1.00" height="100.00" fill="#7c7c7c"/>
<rect x="382.00" y="200.00" width="1.00" height="100.00" fill="#a2a2a2"/>
<rect x="383.00" y="200.00" width="1.00" height="100.00" fill="#a2a2a2"/>
<rect x="384.00" y="200.00" width="1.00" height="100.00" fill="#7c7c7c"/>
<rect x="386.00" y="200.00" width="1.00" height="100.00" fill="#7c7c7c"/>
<rect x="388.00" y="200.00" width="1.00" height="100.00" fill="#a2a2a2"/>
<rect x="389.00" y="200.00" width="1.00" height="100.00" fill="#7c7c7c"/>
<rect x="390.00" y="200.00" width="1.00" height="100.00" fill="#7c7c7c"/>
<rect x="393.00" y="200.00" width="1.00" height="100.00" fill="#7c7c7c"/>
<rect x="396.00" y="200.00" width="1.00" height="100.00" fill="#7c7c7c"/>
<rect x="399.00" y="200.00" width="1.00" height="100.00" fill="#7c7c7c"/>
<rect x="401.00" y="200.00" width="1.00" height="100.00" fill="#a2a2a2"/>
<rect x="402.00" y="200.00" width="1.00" height="100.00" fill="#7c7c7c"/>
<rect x="404.00" y="200.00" width="1.00" height="100.00" fill="#7c7c7c"/>
<rect x="405.00" y="200.00" width="1.00" height="100.00" fill="#7c7c7c"/>
<rect x="406.00" y="200.00" width="1.00" height="100.00" fill="#a2a2a2"/>
<rect x="407.00" y="200.00" width="1.00" height="100.00" fill="#7c7c7c"/>
<rect x="408.00" y="200.00" width="1.00" height="100.00" fill="#7c7c7c"/>
<rect x="410.00" y="200.00" width="1.00" height="100.00" fill="#a2a2a2"/>
<rect x="411.00" y="200.00" width="1.00" height="100.00" fill="#7c7c7c"/>
<rect x="412.00" y="200.00" width="1.00" height="100.00" fill="#a2a2a2"/>
<rect x="414.00" y="200.00" width="1.00" height="100.00" fill="#7c7c7c"/>
<rect x="417.00" y="200.00" width="1.00" height="100.00" fill="#7c7c7c"/>
<rect x="418.00" y="200.00" width="1.00" height="100.00" fill="#7c7c7c"/>
<rect x="420.00" y="200.00" width="1.00" height="100.00" fill="#a2a2a2"/>
<rect x="421.00" y="200.00" width="1.00" height="100.00" fill="#7c7c7c"/>
<rect x="422.00" y="200.00" width="1.00" height="100.00" fill="#a2a2a2"/>
<rect x="424.00" y="200.00" width="1.00" height="100.00" fill="#7c7c7c"/>
<rect x="426.00" y="200.00" width="1.00" height="100.00" fill="#a2a2a2"/>
</g>
<clipPath id="cp4"><path d="M426.5 264.0 L426.5 266.40 L427.0 266.44 L427.5 266.48 L428.0 266.52 L428.5 266.57 L429.0 266.61 L429.5 266.65 L430.0 266.69 L430.5 266.73 L431.0 266.77 L431.5 266.81 L432.0 266.86 L432.5 266.90 L433.0 266.94 L433.5 266.98 L434.0 267.02 L434.5 267.06 L435.0 267.10 L435.5 267.14 L436.0 267.19 L436.5 267.23 L437.0 267.27 L437.5 267.31 L438.0 267.35 L438.5 267.39 L439.0 267.43 L439.5 267.48 L440.0 267.52 L440.5 267.56 L441.0 267.60 L441.5 267.66 L442.0 267.71 L442.5 267.77 L443.0 267.83 L443.5 267.88 L444.0 267.94 L444.5 267.99 L445.0 268.05 L445.5 268.11 L446.0 268.16 L446.5 268.22 L447.0 268.28 L447.5 268.33 L448.0 268.39 L448.5 268.44 L449.0 268.50 L449.5 268.56 L450.0 268.61 L450.5 268.67 L451.0 268.73 L451.5 268.78 L452.0 268.84 L452.5 268.89 L453.0 268.95 L453.5 269.01 L454.0 269.06 L454.5 269.12 L455.0 269.18 L455.5 269.23 L456.0 269.29 L456.5 269.34 L457.0 269.40 L457.5 269.46 L458.0 269.51 L458.5 269.57 L459.0 269.62 L459.5 269.68 L460.0 269.74 L460.5 269.79 L461.0 269.85 L461.5 269.91 L462.0 269.96 L462.5 270.02 L463.0 270.07 L463.5 270.13 L464.0 270.19 L464.5 270.24 L465.0 270.30 L465.5 270.36 L466.0 270.41 L466.5 270.47 L467.0 270.52 L467.5 270.58 L468.0 270.64 L468.5 270.69 L469.0 270.75 L469.5 270.81 L470.0 270.86 L470.5 270.92 L471.0 270.97 L471.5 271.03 L472.0 271.09 L472.5 271.14 L473.0 271.20 L473.5 271.27 L474.0 271.34 L474.5 271.41 L475.0 271.49 L475.5 271.56 L476.0 271.63 L476.5 271.70 L477.0 271.77 L477.5 271.84 L478.0 271.91 L478.5 271.99 L479.0 272.06 L479.5 272.13 L480.0 272.20 L480.5 272.27 L481.0 272.34 L481.5 272.41 L482.0 272.49 L482.5 272.56 L483.0 272.63 L483.5 272.70 L484.0 272.77 L484.5 272.84 L485.0 272.91 L485.5 272.99 L486.0 273.06 L486.5 273.13 L487.0 273.20 L487.5 273.27 L488.0 273.34 L488.5 273.41 L489.0 273.49 L489.5 273.56 L490.0 273.63 L490.5 273.70 L491.0 273.77 L491.5 273.84 L492.0 273.91 L492.5 273.99 L493.0 274.06 L493.5 274.13 L494.0 274.20 L494.5 274.27 L495.0 274.35 L495.5 274.42 L496.0 274.49 L496.5 274.57 L497.0 274.64 L497.5 274.71 L498.0 274.79 L498.5 274.86 L499.0 274.93 L499.5 275.01 L500.0 275.08 L500.5 275.15 L501.0 275.23 L501.5 275.30 L502.0 275.37 L502.5 275.45 L503.0 275.52 L503.5 275.59 L504.0 275.67 L504.5 275.74 L505.0 275.81 L505.5 275.89 L506.0 275.96 L506.5 276.03 L507.0 276.11 L507.5 276.18 L508.0 276.25 L508.5 276.33 L509.0 276.40 L509.5 276.52 L510.0 276.65 L510.5 276.77 L511.0 276.90 L511.5 277.02 L512.0 277.15 L512.5 277.27 L513.0 277.40 L513.5 277.69 L514.0 277.97 L514.5 278.26 L515.0 278.54 L515.5 278.83 L516.0 279.11 L516.5 279.40 L516.5 264.0 Z"/></clipPath>
<g clip-path="url(#cp4)">
<rect x="426.50" y="200.00" width="90.00" height="100.00" fill="#cecece"/>
<rect x="427.00" y="200.00" width="1.00" height="100.00" fill="#bebebe"/>
<rect x="428.00" y="200.00" width="1.00" height="100.00" fill="#a4a4a4"/>
<rect x="430.00" y="200.00" width="1.00" height="100.00" fill="#a4a4a4"/>
<rect x="433.00" y="200.00" width="1.00" height="100.00" fill="#a4a4a4"/>
<rect x="436.00" y="200.00" width="1.00" height="100.00" fill="#a4a4a4"/>
<rect x="438.00" y="200.00" width="1.00" height="100.00" fill="#bebebe"/>
<rect x="440.00" y="200.00" width="1.00" height="100.00" fill="#bebebe"/>
<rect x="441.00" y="200.00" width="1.00" height="100.00" fill="#a4a4a4"/>
<rect x="445.00" y="200.00" width="1.00" height="100.00" fill="#a4a4a4"/>
<rect x="447.00" y="200.00" width="1.00" height="100.00" fill="#a4a4a4"/>
<rect x="448.00" y="200.00" width="1.00" height="100.00" fill="#bebebe"/>
<rect x="449.00" y="200.00" width="1.00" height="100.00" fill="#a4a4a4"/>
<rect x="452.00" y="200.00" width="1.00" height="100.00" fill="#a4a4a4"/>
<rect x="453.00" y="200.00" width="1.00" height="100.00" fill="#bebebe"/>
<rect x="454.00" y="200.00" width="1.00" height="100.00" fill="#bebebe"/>
<rect x="455.00" y="200.00" width="1.00" height="100.00" fill="#a4a4a4"/>
<rect x="457.00" y="200.00" width="1.00" height="100.00" fill="#bebebe"/>
<rect x="459.00" y="200.00" width="1.00" height="100.00" fill="#a4a4a4"/>
<rect x="464.00" y="200.00" width="1.00" height="100.00" fill="#a4a4a4"/>
<rect x="467.00" y="200.00" width="1.00" height="100.00" fill="#bebebe"/>
<rect x="468.00" y="200.00" width="1.00" height="100.00" fill="#a4a4a4"/>
<rect x="470.00" y="200.00" width="1.00" height="100.00" fill="#a4a4a4"/>
<rect x="471.00" y="200.00" width="1.00" height="100.00" fill="#bebebe"/>
<rect x="473.00" y="200.00" width="1.00" height="100.00" fill="#bebebe"/>
<rect x="474.00" y="200.00" width="1.00" height="100.00" fill="#a4a4a4"/>
<rect x="476.00" y="200.00" width="1.00" height="100.00" fill="#a4a4a4"/>
<rect x="477.00" y="200.00" width="1.00" height="100.00" fill="#bebebe"/>
<rect x="479.00" y="200.00" width="1.00" height="100.00" fill="#bebebe"/>
<rect x="481.00" y="200.00" width="1.00" height="100.00" fill="#a4a4a4"/>
<rect x="484.00" y="200.00" width="1.00" height="100.00" fill="#a4a4a4"/>
<rect x="485.00" y="200.00" width="1.00" height="100.00" fill="#bebebe"/>
<rect x="486.00" y="200.00" width="1.00" height="100.00" fill="#a4a4a4"/>
<rect x="488.00" y="200.00" width="1.00" height="100.00" fill="#a4a4a4"/>
<rect x="490.00" y="200.00" width="1.00" height="100.00" fill="#a4a4a4"/>
<rect x="495.00" y="200.00" width="1.00" height="100.00" fill="#a4a4a4"/>
<rect x="497.00" y="200.00" width="1.00" height="100.00" fill="#bebebe"/>
<rect x="500.00" y="200.00" width="1.00" height="100.00" fill="#a4a4a4"/>
<rect x="505.00" y="200.00" width="1.00" height="100.00" fill="#a4a4a4"/>
<rect x="506.00" y="200.00" width="1.00" height="100.00" fill="#bebebe"/>
<rect x="507.00" y="200.00" width="1.00" height="100.00" fill="#a4a4a4"/>
<rect x="509.00" y="200.00" width="1.00" height="100.00" fill="#a4a4a4"/>
<rect x="513.00" y="200.00" width="1.00" height="100.00" fill="#a4a4a4"/>
<rect x="516.00" y="200.00" width="1.00" height="100.00" fill="#bebebe"/>
</g>
<text x="421.00" y="223.10" font-size="8.65" fill="#1a1a1a">Enrich ratio = 2.032</text>
<text x="421" y="231.9" font-size="8.65" fill="#1a1a1a"><tspan font-style="italic">P</tspan> = 3.69e−13</text>
<text x="104.00" y="321.40" font-size="8.5" text-anchor="middle" fill="#1a1a1a">SKCM</text>
<text x="28.20" y="362.00" font-size="8.5" text-anchor="middle" transform="rotate(-90 28.20 362.00)" fill="#1a1a1a">MYC activity</text>
<clipPath id="cp5"><path d="M35.8 370.4 L35.8 343.00 L36.3 343.23 L36.8 343.46 L37.3 343.69 L37.8 343.92 L38.3 344.14 L38.8 344.37 L39.3 344.60 L39.8 344.83 L40.3 345.06 L40.8 345.29 L41.3 345.52 L41.8 345.75 L42.3 345.98 L42.8 346.20 L43.3 346.43 L43.8 346.66 L44.3 346.89 L44.8 347.12 L45.3 347.35 L45.8 347.58 L46.3 347.81 L46.8 348.04 L47.3 348.26 L47.8 348.49 L48.3 348.72 L48.8 348.95 L49.3 349.18 L49.8 349.41 L50.3 349.63 L50.8 349.83 L51.3 350.04 L51.8 350.25 L52.3 350.46 L52.8 350.67 L53.3 350.88 L53.8 351.09 L54.3 351.29 L54.8 351.50 L55.3 351.71 L55.8 351.92 L56.3 352.13 L56.8 352.34 L57.3 352.55 L57.8 352.75 L58.3 352.96 L58.8 353.17 L59.3 353.38 L59.8 353.59 L60.3 353.80 L60.8 354.01 L61.3 354.21 L61.8 354.42 L62.3 354.63 L62.8 354.84 L63.3 355.05 L63.8 355.26 L64.3 355.47 L64.8 355.67 L65.3 355.88 L65.8 356.09 L66.3 356.30 L66.8 356.51 L67.3 356.72 L67.8 356.96 L68.3 357.23 L68.8 357.51 L69.3 357.78 L69.8 358.05 L70.3 358.32 L70.8 358.59 L71.3 358.86 L71.8 359.13 L72.3 359.41 L72.8 359.68 L73.3 359.95 L73.8 360.22 L74.3 360.49 L74.8 360.76 L75.3 361.03 L75.8 361.31 L76.3 361.58 L76.8 361.85 L77.3 362.12 L77.8 362.39 L78.3 362.73 L78.8 363.10 L79.3 363.48 L79.8 363.85 L80.3 364.23 L80.8 364.60 L81.3 364.98 L81.8 365.35 L82.3 365.73 L82.8 366.10 L83.3 366.48 L83.8 366.85 L84.3 367.23 L84.8 367.60 L85.3 367.98 L85.8 368.35 L86.3 368.73 L86.8 369.10 L87.3 369.48 L87.8 369.85 L88.3 370.12 L88.8 370.32 L89.0 370.4 Z"/></clipPath>
<g clip-path="url(#cp5)">
<rect x="35.80" y="330.00" width="53.20" height="75.00" fill="#b2b2b2"/>
<rect x="35.00" y="330.00" width="1.00" height="75.00" fill="#949494"/>
<rect x="36.00" y="330.00" width="1.00" height="75.00" fill="#787878"/>
<rect x="37.00" y="330.00" width="1.00" height="75.00" fill="#787878"/>
<rect x="38.00" y="330.00" width="1.00" height="75.00" fill="#949494"/>
<rect x="40.00" y="330.00" width="1.00" height="75.00" fill="#787878"/>
<rect x="41.00" y="330.00" width="1.00" height="75.00" fill="#787878"/>
<rect x="44.00" y="330.00" width="1.00" height="75.00" fill="#787878"/>
<rect x="45.00" y="330.00" width="1.00" height="75.00" fill="#787878"/>
<rect x="46.00" y="330.00" width="1.00" height="75.00" fill="#949494"/>
<rect x="47.00" y="330.00" width="1.00" height="75.00" fill="#949494"/>
<rect x="48.00" y="330.00" width="1.00" height="75.00" fill="#787878"/>
<rect x="49.00" y="330.00" width="1.00" height="75.00" fill="#787878"/>
<rect x="50.00" y="330.00" width="1.00" height="75.00" fill="#949494"/>
<rect x="52.00" y="330.00" width="1.00" height="75.00" fill="#787878"/>
<rect x="53.00" y="330.00" width="1.00" height="75.00" fill="#787878"/>
<rect x="55.00" y="330.00" width="1.00" height="75.00" fill="#787878"/>
<rect x="56.00" y="330.00" width="1.00" height="75.00" fill="#787878"/>
<rect x="57.00" y="330.00" width="1.00" height="75.00" fill="#949494"/>
<rect x="59.00" y="330.00" width="1.00" height="75.00" fill="#787878"/>
<rect x="62.00" y="330.00" width="1.00" height="75.00" fill="#787878"/>
<rect x="63.00" y="330.00" width="1.00" height="75.00" fill="#787878"/>
<rect x="64.00" y="330.00" width="1.00" height="75.00" fill="#949494"/>
<rect x="65.00" y="330.00" width="1.00" height="75.00" fill="#949494"/>
<rect x="66.00" y="330.00" width="1.00" height="75.00" fill="#787878"/>
<rect x="67.00" y="330.00" width="1.00" height="75.00" fill="#949494"/>
<rect x="69.00" y="330.00" width="1.00" height="75.00" fill="#787878"/>
<rect x="70.00" y="330.00" width="1.00" height="75.00" fill="#949494"/>
<rect x="72.00" y="330.00" width="1.00" height="75.00" fill="#787878"/>
<rect x="73.00" y="330.00" width="1.00" height="75.00" fill="#787878"/>
<rect x="75.00" y="330.00" width="1.00" height="75.00" fill="#787878"/>
<rect x="76.00" y="330.00" width="1.00" height="75.00" fill="#787878"/>
<rect x="77.00" y="330.00" width="1.00" height="75.00" fill="#949494"/>
<rect x="78.00" y="330.00" width="1.00" height="75.00" fill="#949494"/>
<rect x="79.00" y="330.00" width="1.00" height="75.00" fill="#787878"/>
<rect x="80.00" y="330.00" width="1.00" height="75.00" fill="#949494"/>
<rect x="82.00" y="330.00" width="1.00" height="75.00" fill="#787878"/>
<rect x="83.00" y="330.00" width="1.00" height="75.00" fill="#787878"/>
<rect x="86.00" y="330.00" width="1.00" height="75.00" fill="#787878"/>
<rect x="87.00" y="330.00" width="1.00" height="75.00" fill="#949494"/>
<rect x="88.00" y="330.00" width="1.00" height="75.00" fill="#787878"/>
</g>
<clipPath id="cp6"><path d="M89.0 370.4 L89.0 370.40 L89.5 370.60 L90.0 370.80 L90.5 371.00 L91.0 371.20 L91.5 371.40 L92.0 371.60 L92.5 371.72 L93.0 371.85 L93.5 371.97 L94.0 372.10 L94.5 372.22 L95.0 372.34 L95.5 372.47 L96.0 372.59 L96.5 372.71 L97.0 372.84 L97.5 372.96 L98.0 373.09 L98.5 373.21 L99.0 373.33 L99.5 373.46 L100.0 373.58 L100.5 373.70 L101.0 373.83 L101.5 373.95 L102.0 374.08 L102.5 374.20 L103.0 374.32 L103.5 374.45 L104.0 374.57 L104.5 374.69 L105.0 374.82 L105.5 374.94 L106.0 375.07 L106.5 375.19 L107.0 375.31 L107.5 375.44 L108.0 375.56 L108.5 375.68 L109.0 375.81 L109.5 375.93 L110.0 376.06 L110.5 376.18 L111.0 376.30 L111.5 376.43 L112.0 376.55 L112.5 376.67 L113.0 376.80 L113.5 376.92 L114.0 377.05 L114.5 377.17 L115.0 377.29 L115.5 377.42 L116.0 377.54 L116.5 377.66 L117.0 377.79 L117.5 377.91 L118.0 378.04 L118.5 378.16 L119.0 378.28 L119.5 378.41 L120.0 378.53 L120.5 378.65 L121.0 378.78 L121.5 378.90 L122.0 379.03 L122.5 379.15 L123.0 379.27 L123.5 379.40 L124.0 379.52 L124.5 379.64 L125.0 379.77 L125.5 379.89 L126.0 380.02 L126.5 380.14 L127.0 380.26 L127.5 380.39 L128.0 380.51 L128.5 380.63 L129.0 380.76 L129.5 380.88 L130.0 381.01 L130.5 381.13 L131.0 381.25 L131.5 381.38 L132.0 381.50 L132.5 381.63 L133.0 381.76 L133.5 381.89 L134.0 382.03 L134.5 382.16 L135.0 382.30 L135.5 382.43 L136.0 382.57 L136.5 382.70 L137.0 382.83 L137.5 382.97 L138.0 383.10 L138.5 383.24 L139.0 383.37 L139.5 383.50 L140.0 383.64 L140.5 383.77 L141.0 383.91 L141.5 384.04 L142.0 384.17 L142.5 384.31 L143.0 384.44 L143.5 384.58 L144.0 384.71 L144.5 384.84 L145.0 384.98 L145.5 385.11 L146.0 385.25 L146.5 385.38 L147.0 385.51 L147.5 385.65 L148.0 385.78 L148.5 385.92 L149.0 386.05 L149.5 386.18 L150.0 386.32 L150.5 386.45 L151.0 386.59 L151.5 386.72 L152.0 386.86 L152.5 386.99 L153.0 387.12 L153.5 387.26 L154.0 387.39 L154.5 387.53 L155.0 387.66 L155.5 387.79 L156.0 387.93 L156.5 388.06 L157.0 388.20 L157.5 388.33 L158.0 388.46 L158.5 388.60 L159.0 388.73 L159.5 388.87 L160.0 389.00 L160.5 389.15 L161.0 389.30 L161.5 389.45 L162.0 389.60 L162.5 389.75 L163.0 389.90 L163.5 390.05 L164.0 390.20 L164.5 390.35 L165.0 390.50 L165.5 390.65 L166.0 390.80 L166.5 390.95 L167.0 391.10 L167.5 391.24 L168.0 391.39 L168.5 391.54 L169.0 391.69 L169.5 391.84 L170.0 391.99 L170.5 392.14 L171.0 392.29 L171.5 392.44 L172.0 392.59 L172.5 392.74 L173.0 392.89 L173.5 393.04 L174.0 393.19 L174.5 393.34 L175.0 393.58 L175.5 393.88 L176.0 394.19 L176.5 394.49 L177.0 394.79 L177.5 395.09 L178.0 395.40 L178.5 395.70 L179.0 396.00 L179.5 396.58 L180.0 397.15 L180.5 397.73 L181.0 398.31 L181.5 398.88 L181.6 370.4 Z"/></clipPath>
<g clip-path="url(#cp6)">
<rect x="89.00" y="330.00" width="92.60" height="75.00" fill="#cccccc"/>
<rect x="89.00" y="330.00" width="1.00" height="75.00" fill="#b6b6b6"/>
<rect x="90.00" y="330.00" width="1.00" height="75.00" fill="#c3c3c3"/>
<rect x="91.00" y="330.00" width="1.00" height="75.00" fill="#c3c3c3"/>
<rect x="93.00" y="330.00" width="1.00" height="75.00" fill="#b6b6b6"/>
<rect x="98.00" y="330.00" width="1.00" height="75.00" fill="#b6b6b6"/>
<rect x="101.00" y="330.00" width="1.00" height="75.00" fill="#c3c3c3"/>
<rect x="102.00" y="330.00" width="1.00" height="75.00" fill="#b6b6b6"/>
<rect x="103.00" y="330.00" width="1.00" height="75.00" fill="#c3c3c3"/>
<rect x="106.00" y="330.00" width="1.00" height="75.00" fill="#c3c3c3"/>
<rect x="107.00" y="330.00" width="1.00" height="75.00" fill="#b6b6b6"/>
<rect x="109.00" y="330.00" width="1.00" height="75.00" fill="#c3c3c3"/>
<rect x="110.00" y="330.00" width="1.00" height="75.00" fill="#b6b6b6"/>
<rect x="112.00" y="330.00" width="1.00" height="75.00" fill="#c3c3c3"/>
<rect x="114.00" y="330.00" width="1.00" height="75.00" fill="#c3c3c3"/>
<rect x="115.00" y="330.00" width="1.00" height="75.00" fill="#b6b6b6"/>
<rect x="117.00" y="330.00" width="1.00" height="75.00" fill="#b6b6b6"/>
<rect x="118.00" y="330.00" width="1.00" height="75.00" fill="#c3c3c3"/>
<rect x="122.00" y="330.00" width="1.00" height="75.00" fill="#b6b6b6"/>
<rect x="123.00" y="330.00" width="1.00" height="75.00" fill="#c3c3c3"/>
<rect x="125.00" y="330.00" width="1.00" height="75.00" fill="#b6b6b6"/>
<rect x="127.00" y="330.00" width="1.00" height="75.00" fill="#c3c3c3"/>
<rect x="128.00" y="330.00" width="1.00" height="75.00" fill="#c3c3c3"/>
<rect x="130.00" y="330.00" width="1.00" height="75.00" fill="#b6b6b6"/>
<rect x="132.00" y="330.00" width="1.00" height="75.00" fill="#b6b6b6"/>
<rect x="135.00" y="330.00" width="1.00" height="75.00" fill="#c3c3c3"/>
<rect x="137.00" y="330.00" width="1.00" height="75.00" fill="#b6b6b6"/>
<rect x="139.00" y="330.00" width="1.00" height="75.00" fill="#b6b6b6"/>
<rect x="140.00" y="330.00" width="1.00" height="75.00" fill="#c3c3c3"/>
<rect x="144.00" y="330.00" width="1.00" height="75.00" fill="#b6b6b6"/>
<rect x="145.00" y="330.00" width="1.00" height="75.00" fill="#c3c3c3"/>
<rect x="146.00" y="330.00" width="1.00" height="75.00" fill="#c3c3c3"/>
<rect x="148.00" y="330.00" width="1.00" height="75.00" fill="#c3c3c3"/>
<rect x="149.00" y="330.00" width="1.00" height="75.00" fill="#b6b6b6"/>
<rect x="151.00" y="330.00" width="1.00" height="75.00" fill="#b6b6b6"/>
<rect x="154.00" y="330.00" width="1.00" height="75.00" fill="#b6b6b6"/>
<rect x="155.00" y="330.00" width="1.00" height="75.00" fill="#c3c3c3"/>
<rect x="159.00" y="330.00" width="1.00" height="75.00" fill="#b6b6b6"/>
<rect x="162.00" y="330.00" width="1.00" height="75.00" fill="#b6b6b6"/>
<rect x="164.00" y="330.00" width="1.00" height="75.00" fill="#c3c3c3"/>
<rect x="166.00" y="330.00" width="1.00" height="75.00" fill="#b6b6b6"/>
<rect x="169.00" y="330.00" width="1.00" height="75.00" fill="#b6b6b6"/>
<rect x="171.00" y="330.00" width="1.00" height="75.00" fill="#c3c3c3"/>
<rect x="173.00" y="330.00" width="1.00" height="75.00" fill="#c3c3c3"/>
<rect x="174.00" y="330.00" width="1.00" height="75.00" fill="#b6b6b6"/>
<rect x="175.00" y="330.00" width="1.00" height="75.00" fill="#c3c3c3"/>
<rect x="177.00" y="330.00" width="1.00" height="75.00" fill="#b6b6b6"/>
<rect x="180.00" y="330.00" width="1.00" height="75.00" fill="#b6b6b6"/>
<rect x="181.00" y="330.00" width="1.00" height="75.00" fill="#c3c3c3"/>
</g>
<line x1="67.40" y1="340.40" x2="67.40" y2="398.40" stroke="#111" stroke-width="1.0"/>
<line x1="67.40" y1="392.00" x2="73.60" y2="392.00" stroke="#111" stroke-width="1.0"/>
<line x1="73.90" y1="392.00" x2="71.30" y2="389.60" stroke="#111" stroke-width="1.0"/>
<line x1="73.90" y1="392.00" x2="71.30" y2="394.40" stroke="#111" stroke-width="1.0"/>
<text x="75.80" y="395.20" font-size="8.6" fill="#1a1a1a">MYC amp.(17%)</text>
<text x="111.20" y="343.70" font-size="7.15" fill="#1a1a1a">MYC amp. status</text>
<rect x="112.10" y="346.60" width="8.70" height="7.30" fill="#6a6a6a"/>
<text x="124.00" y="353.00" font-size="7.15" fill="#1a1a1a">Amp</text>
<rect x="112.10" y="354.30" width="8.70" height="7.70" fill="#cbcbcb"/>
<text x="124.00" y="361.50" font-size="7.15" fill="#1a1a1a">No amp.</text>
<line x1="35.60" y1="413.20" x2="182.60" y2="413.20" stroke="#222" stroke-width="0.9"/>
<line x1="35.60" y1="409.80" x2="35.60" y2="416.80" stroke="#222" stroke-width="0.9"/>
<line x1="67.20" y1="409.80" x2="67.20" y2="416.80" stroke="#222" stroke-width="0.9"/>
<line x1="182.60" y1="409.80" x2="182.60" y2="416.80" stroke="#222" stroke-width="0.9"/>
<text x="33.80" y="428.60" font-size="8.5" fill="#1a1a1a">MYC high</text>
<text x="111.20" y="428.60" font-size="8.5" fill="#1a1a1a">MYC low</text>
<rect x="47.90" y="433.00" width="2.80" height="13.40" fill="#8a8a8a"/>
<rect x="47.90" y="433.20" width="2.80" height="0.90" fill="#555"/>
<rect x="47.90" y="435.10" width="2.80" height="0.90" fill="#555"/>
<rect x="47.90" y="437.00" width="2.80" height="0.90" fill="#555"/>
<rect x="47.90" y="438.90" width="2.80" height="0.90" fill="#555"/>
<rect x="47.90" y="440.80" width="2.80" height="0.90" fill="#555"/>
<rect x="47.90" y="442.70" width="2.80" height="0.90" fill="#555"/>
<rect x="47.90" y="444.60" width="2.80" height="0.90" fill="#555"/>
<path d="M48.40 446 L48.40 457.6 Q48.40 458.8 49.70 458.8 L57.20 458.8 M48.40 447 L57.20 447" stroke="#111" stroke-width="1.1" fill="none"/>
<path d="M54.90 444.80 L57.40 447.00 L54.90 449.20" stroke="#111" stroke-width="1.0" fill="none"/>
<path d="M54.90 456.60 L57.40 458.80 L54.90 461.00" stroke="#111" stroke-width="1.0" fill="none"/>
<rect x="59.70" y="444.50" width="5.40" height="5.40" fill="#adadad"/>
<rect x="59.70" y="457.20" width="5.40" height="5.40" fill="#666"/>
<text x="67.70" y="450.40" font-size="8.5" fill="#1a1a1a">H-nonAmp</text>
<text x="67.70" y="462.60" font-size="8.5" fill="#1a1a1a">H-Amp</text>
<rect x="123.60" y="433.00" width="2.80" height="13.40" fill="#8a8a8a"/>
<rect x="123.60" y="433.20" width="2.80" height="0.90" fill="#555"/>
<rect x="123.60" y="435.10" width="2.80" height="0.90" fill="#555"/>
<rect x="123.60" y="437.00" width="2.80" height="0.90" fill="#555"/>
<rect x="123.60" y="438.90" width="2.80" height="0.90" fill="#555"/>
<rect x="123.60" y="440.80" width="2.80" height="0.90" fill="#555"/>
<rect x="123.60" y="442.70" width="2.80" height="0.90" fill="#555"/>
<rect x="123.60" y="444.60" width="2.80" height="0.90" fill="#555"/>
<path d="M124.10 446 L124.10 457.6 Q124.10 458.8 125.40 458.8 L132.60 458.8 M124.10 447 L132.60 447" stroke="#111" stroke-width="1.1" fill="none"/>
<path d="M130.30 444.80 L132.80 447.00 L130.30 449.20" stroke="#111" stroke-width="1.0" fill="none"/>
<path d="M130.30 456.60 L132.80 458.80 L130.30 461.00" stroke="#111" stroke-width="1.0" fill="none"/>
<rect x="135.90" y="444.50" width="5.40" height="5.40" fill="#dcdcdc"/>
<rect x="135.90" y="457.20" width="5.40" height="5.40" fill="#9a9a9a"/>
<text x="143.80" y="450.40" font-size="8.5" fill="#1a1a1a">L-nonAmp</text>
<text x="143.80" y="462.60" font-size="8.5" fill="#1a1a1a">L-Amp</text>
<rect x="297.20" y="313.80" width="7.20" height="7.20" fill="#606060"/>
<text x="310.20" y="320.40" font-size="8.6" fill="#1a1a1a">H-Amp</text>
<rect x="374.00" y="313.80" width="7.20" height="7.20" fill="#9c9c9c"/>
<text x="386.20" y="320.40" font-size="8.6" fill="#1a1a1a">H-NonAmp</text>
<line x1="239.40" y1="326.00" x2="239.40" y2="413.30" stroke="#222" stroke-width="0.9"/>
<line x1="236.60" y1="326.40" x2="239.40" y2="326.40" stroke="#222" stroke-width="0.8"/>
<text x="235.60" y="329.40" font-size="8.5" text-anchor="middle" transform="rotate(-90 235.60 329.40)" fill="#1a1a1a">100</text>
<line x1="236.60" y1="347.00" x2="239.40" y2="347.00" stroke="#222" stroke-width="0.8"/>
<text x="235.60" y="347.30" font-size="8.5" text-anchor="middle" transform="rotate(-90 235.60 347.30)" fill="#1a1a1a">75</text>
<line x1="236.60" y1="367.60" x2="239.40" y2="367.60" stroke="#222" stroke-width="0.8"/>
<text x="235.60" y="367.90" font-size="8.5" text-anchor="middle" transform="rotate(-90 235.60 367.90)" fill="#1a1a1a">50</text>
<line x1="236.60" y1="388.20" x2="239.40" y2="388.20" stroke="#222" stroke-width="0.8"/>
<text x="235.60" y="388.50" font-size="8.5" text-anchor="middle" transform="rotate(-90 235.60 388.50)" fill="#1a1a1a">25</text>
<line x1="236.60" y1="408.80" x2="239.40" y2="408.80" stroke="#222" stroke-width="0.8"/>
<text x="235.60" y="409.10" font-size="8.5" text-anchor="middle" transform="rotate(-90 235.60 409.10)" fill="#1a1a1a">0</text>
<text x="222.00" y="368.40" font-size="9.45" text-anchor="middle" transform="rotate(-90 222.00 368.40)" fill="#1a1a1a">% of MYC high samples</text>
<line x1="239.00" y1="412.90" x2="477.40" y2="412.90" stroke="#1a1a1a" stroke-width="1.0"/>
<rect x="243.80" y="326.40" width="6.60" height="13.70" fill="#9c9c9c"/>
<rect x="243.80" y="340.10" width="6.60" height="68.70" fill="#606060"/>
<line x1="247.10" y1="412.90" x2="247.10" y2="415.80" stroke="#222" stroke-width="0.9"/>
<text x="250.45" y="417.90" font-size="9.7" text-anchor="end" transform="rotate(-90 250.45 417.90)" fill="#1a1a1a">OV(67%)</text>
<rect x="256.95" y="326.40" width="6.60" height="31.50" fill="#9c9c9c"/>
<rect x="256.95" y="357.90" width="6.60" height="50.90" fill="#606060"/>
<line x1="260.25" y1="412.90" x2="260.25" y2="415.80" stroke="#222" stroke-width="0.9"/>
<text x="263.60" y="417.90" font-size="9.7" text-anchor="end" transform="rotate(-90 263.60 417.90)" fill="#1a1a1a">ESCA(46%)</text>
<rect x="270.10" y="326.40" width="6.60" height="34.60" fill="#9c9c9c"/>
<rect x="270.10" y="361.00" width="6.60" height="47.80" fill="#606060"/>
<line x1="273.40" y1="412.90" x2="273.40" y2="415.80" stroke="#222" stroke-width="0.9"/>
<text x="276.75" y="417.90" font-size="9.7" text-anchor="end" transform="rotate(-90 276.75 417.90)" fill="#1a1a1a">STAD(34%)</text>
<rect x="283.25" y="326.40" width="6.60" height="40.20" fill="#9c9c9c"/>
<rect x="283.25" y="366.60" width="6.60" height="42.20" fill="#606060"/>
<line x1="286.55" y1="412.90" x2="286.55" y2="415.80" stroke="#222" stroke-width="0.9"/>
<text x="289.90" y="417.90" font-size="9.7" text-anchor="end" transform="rotate(-90 289.90 417.90)" fill="#1a1a1a">LUSC(37%)</text>
<rect x="296.40" y="326.40" width="6.60" height="41.70" fill="#9c9c9c"/>
<rect x="296.40" y="368.10" width="6.60" height="40.70" fill="#606060"/>
<line x1="299.70" y1="412.90" x2="299.70" y2="415.80" stroke="#222" stroke-width="0.9"/>
<text x="303.05" y="417.90" font-size="9.7" text-anchor="end" transform="rotate(-90 303.05 417.90)" fill="#1a1a1a">LUAD(33%)</text>
<rect x="309.55" y="326.40" width="6.60" height="46.00" fill="#9c9c9c"/>
<rect x="309.55" y="372.40" width="6.60" height="36.40" fill="#606060"/>
<line x1="312.85" y1="412.90" x2="312.85" y2="415.80" stroke="#222" stroke-width="0.9"/>
<text x="316.20" y="417.90" font-size="9.7" text-anchor="end" transform="rotate(-90 316.20 417.90)" fill="#1a1a1a">LIHC(30%)</text>
<rect x="322.70" y="326.40" width="6.60" height="46.00" fill="#9c9c9c"/>
<rect x="322.70" y="372.40" width="6.60" height="36.40" fill="#606060"/>
<line x1="326.00" y1="412.90" x2="326.00" y2="415.80" stroke="#222" stroke-width="0.9"/>
<text x="329.35" y="417.90" font-size="9.7" text-anchor="end" transform="rotate(-90 329.35 417.90)" fill="#1a1a1a">HNSC(30%)</text>
<rect x="335.85" y="326.40" width="6.60" height="37.40" fill="#9c9c9c"/>
<rect x="335.85" y="363.80" width="6.60" height="45.00" fill="#606060"/>
<line x1="339.15" y1="412.90" x2="339.15" y2="415.80" stroke="#222" stroke-width="0.9"/>
<text x="342.50" y="417.90" font-size="9.7" text-anchor="end" transform="rotate(-90 342.50 417.90)" fill="#1a1a1a">BRCA(29%)</text>
<rect x="349.00" y="326.40" width="6.60" height="34.80" fill="#9c9c9c"/>
<rect x="349.00" y="361.20" width="6.60" height="47.60" fill="#606060"/>
<line x1="352.30" y1="412.90" x2="352.30" y2="415.80" stroke="#222" stroke-width="0.9"/>
<text x="355.65" y="417.90" font-size="9.7" text-anchor="end" transform="rotate(-90 355.65 417.90)" fill="#1a1a1a">BLCA(28%)</text>
<rect x="362.15" y="326.40" width="6.60" height="42.80" fill="#9c9c9c"/>
<rect x="362.15" y="369.20" width="6.60" height="39.60" fill="#606060"/>
<line x1="365.45" y1="412.90" x2="365.45" y2="415.80" stroke="#222" stroke-width="0.9"/>
<text x="368.80" y="417.90" font-size="9.7" text-anchor="end" transform="rotate(-90 368.80 417.90)" fill="#1a1a1a">PAAD(25%)</text>
<rect x="375.30" y="326.40" width="6.60" height="31.90" fill="#9c9c9c"/>
<rect x="375.30" y="358.30" width="6.60" height="50.50" fill="#606060"/>
<line x1="378.60" y1="412.90" x2="378.60" y2="415.80" stroke="#222" stroke-width="0.9"/>
<text x="381.95" y="417.90" font-size="9.7" text-anchor="end" transform="rotate(-90 381.95 417.90)" fill="#1a1a1a">READ(25%)</text>
<rect x="388.45" y="326.40" width="6.60" height="44.60" fill="#9c9c9c"/>
<rect x="388.45" y="371.00" width="6.60" height="37.80" fill="#606060"/>
<line x1="391.75" y1="412.90" x2="391.75" y2="415.80" stroke="#222" stroke-width="0.9"/>
<text x="395.10" y="417.90" font-size="9.7" text-anchor="end" transform="rotate(-90 395.10 417.90)" fill="#1a1a1a">CESC(20%)</text>
<rect x="401.60" y="326.40" width="6.60" height="51.90" fill="#9c9c9c"/>
<rect x="401.60" y="378.30" width="6.60" height="30.50" fill="#606060"/>
<line x1="404.90" y1="412.90" x2="404.90" y2="415.80" stroke="#222" stroke-width="0.9"/>
<text x="408.25" y="417.90" font-size="9.7" text-anchor="end" transform="rotate(-90 408.25 417.90)" fill="#1a1a1a">COAD(17%)</text>
<rect x="414.75" y="326.40" width="6.60" height="49.40" fill="#9c9c9c"/>
<rect x="414.75" y="375.80" width="6.60" height="33.00" fill="#606060"/>
<line x1="418.05" y1="412.90" x2="418.05" y2="415.80" stroke="#222" stroke-width="0.9"/>
<text x="421.40" y="417.90" font-size="9.7" text-anchor="end" transform="rotate(-90 421.40 417.90)" fill="#1a1a1a">SKCM(17%)</text>
<rect x="427.90" y="326.40" width="6.60" height="33.70" fill="#9c9c9c"/>
<rect x="427.90" y="360.10" width="6.60" height="48.70" fill="#606060"/>
<line x1="431.20" y1="412.90" x2="431.20" y2="415.80" stroke="#222" stroke-width="0.9"/>
<text x="434.55" y="417.90" font-size="9.7" text-anchor="end" transform="rotate(-90 434.55 417.90)" fill="#1a1a1a">UCEC(16%)</text>
<rect x="441.05" y="326.40" width="6.60" height="43.60" fill="#9c9c9c"/>
<rect x="441.05" y="370.00" width="6.60" height="38.80" fill="#606060"/>
<line x1="444.35" y1="412.90" x2="444.35" y2="415.80" stroke="#222" stroke-width="0.9"/>
<text x="447.70" y="417.90" font-size="9.7" text-anchor="end" transform="rotate(-90 447.70 417.90)" fill="#1a1a1a">SARC(16%)</text>
<rect x="454.20" y="326.40" width="6.60" height="42.10" fill="#9c9c9c"/>
<rect x="454.20" y="368.50" width="6.60" height="40.30" fill="#606060"/>
<line x1="457.50" y1="412.90" x2="457.50" y2="415.80" stroke="#222" stroke-width="0.9"/>
<text x="460.85" y="417.90" font-size="9.7" text-anchor="end" transform="rotate(-90 460.85 417.90)" fill="#1a1a1a">PRAD(14%)</text>
<rect x="467.35" y="326.40" width="6.60" height="53.00" fill="#9c9c9c"/>
<rect x="467.35" y="379.40" width="6.60" height="29.40" fill="#606060"/>
<line x1="470.65" y1="412.90" x2="470.65" y2="415.80" stroke="#222" stroke-width="0.9"/>
<text x="474.00" y="417.90" font-size="9.7" text-anchor="end" transform="rotate(-90 474.00 417.90)" fill="#1a1a1a">LGG(12%)</text>
</svg>
</body>
</html>
